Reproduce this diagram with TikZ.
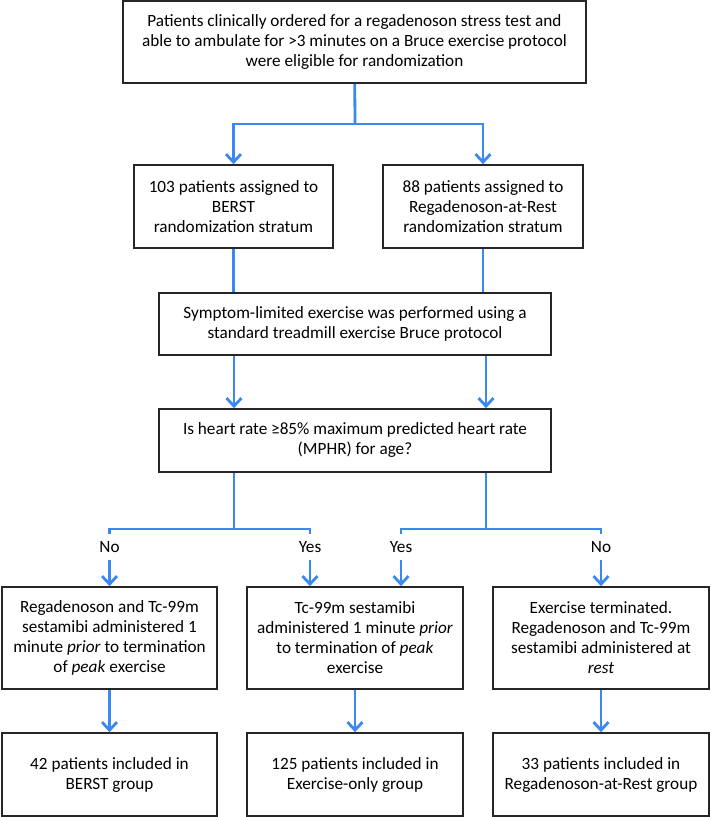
\documentclass[tikz,border=0pt]{standalone}
\usepackage{fontspec}
\setmainfont{Carlito}
\usetikzlibrary{arrows.meta}
\definecolor{flowblue}{RGB}{59,137,240}

\begin{document}
\begin{tikzpicture}[x=1pt,y=-1pt,
    box/.style={draw=black!85,line width=1.7pt,align=center,inner sep=0pt,
        font=\fontsize{17.2}{20}\selectfont},
    link/.style={draw=flowblue,line width=2.8pt},
    arrow/.style={link,-{Straight Barb[length=8pt,width=15pt]}},
    lbl/.style={inner sep=0pt,minimum height=26pt,font=\fontsize{17.2}{20}\selectfont}]
    \useasboundingbox (0,0) rectangle (710,817);

    \node[box,minimum width=463pt,minimum height=82pt] (elig) at (354.5,42)
        {Patients clinically ordered for a regadenoson stress test and\\
         able to ambulate for >3 minutes on a Bruce exercise protocol\\
         were eligible for randomization};

    \node[box,minimum width=199pt,minimum height=83pt] (stratL) at (233.5,206.5)
        {103 patients assigned to\\BERST\\randomization stratum};
    \node[box,minimum width=200pt,minimum height=83pt] (stratR) at (483,206.5)
        {88 patients assigned to\\Regadenoson-at-Rest\\randomization stratum};

    \node[box,minimum width=392pt,minimum height=62pt] (exer) at (355,324)
        {Symptom-limited exercise was performed using a\\
         standard treadmill exercise Bruce protocol};
    \node[box,minimum width=392pt,minimum height=63pt] (hr) at (355,440.5)
        {Is heart rate ≥85\% maximum predicted heart rate\\(MPHR) for age?};

    \node[box,minimum width=215pt,minimum height=102pt] (actL) at (109.5,638)
        {Regadenoson and Tc-99m\\sestamibi administered 1\\
         minute \textit{prior} to termination\\of \textit{peak} exercise};
    \node[box,minimum width=216pt,minimum height=102pt] (actM) at (355,638)
        {Tc-99m sestamibi\\administered 1 minute \textit{prior}\\
         to termination of \textit{peak}\\exercise};
    \node[box,minimum width=216pt,minimum height=102pt] (actR) at (601,638)
        {Exercise terminated.\\Regadenoson and Tc-99m\\
         sestamibi administered at\\\textit{rest}};

    \node[box,minimum width=215pt,minimum height=83pt] (grpL) at (109.5,774.5)
        {42 patients included in\\BERST group};
    \node[box,minimum width=216pt,minimum height=83pt] (grpM) at (355,774.5)
        {125 patients included in\\Exercise-only group};
    \node[box,minimum width=216pt,minimum height=83pt] (grpR) at (601,774.5)
        {33 patients included in\\Regadenoson-at-Rest group};

    \node[lbl] (noL) at (109.5,547) {No};
    \node[lbl] (yesL) at (310,547) {Yes};
    \node[lbl] (yesR) at (401,547) {Yes};
    \node[lbl] (noR) at (601,547) {No};

    \coordinate (split) at (355,124);
    \coordinate (forkL) at (234,529);
    \coordinate (forkR) at (486,529);

    \draw[link] (elig) -- (split);
    \draw[arrow] (split) -| (stratL);
    \draw[arrow] (split) -| (stratR);

    \draw[link] (stratL) -- (stratL |- exer.north);
    \draw[link] (stratR) -- (stratR |- exer.north);

    \draw[arrow] (exer.south -| forkL) -- (hr.north -| forkL);
    \draw[arrow] (exer.south -| forkR) -- (hr.north -| forkR);

    \draw[link] (hr.south -| forkL) -- (forkL);
    \draw[link] (noL.north) |- (forkL) -| (yesL.north);
    \draw[link] (hr.south -| forkR) -- (forkR);
    \draw[link] (yesR.north) |- (forkR) -| (noR.north);

    \draw[arrow] (noL) -- (actL);
    \draw[arrow] (yesL) -- (yesL |- actM.north);
    \draw[arrow] (yesR) -- (yesR |- actM.north);
    \draw[arrow] (noR) -- (actR);

    \foreach \c in {L,M,R}{
        \draw[arrow] (act\c) -- (grp\c);
    }
\end{tikzpicture}
\end{document}
